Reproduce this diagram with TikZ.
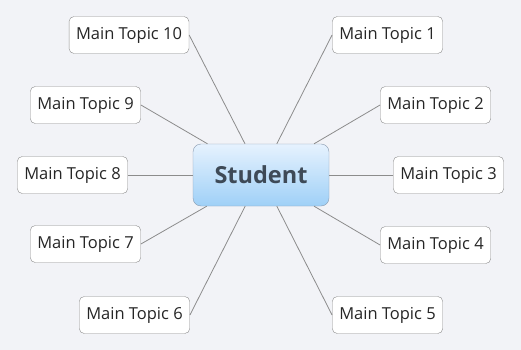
\documentclass[tikz,border=0pt]{standalone}
\usepackage{fontspec}
\setmainfont{Open Sans}
\usetikzlibrary{arrows.meta}
\definecolor{bgcol}{HTML}{F2F3F7}
\definecolor{edgecol}{HTML}{8C8C8C}
\definecolor{stutop}{HTML}{E6F2FE}
\definecolor{stubot}{HTML}{9FD0F7}
\definecolor{stuline}{HTML}{8A9BB0}
\definecolor{stutext}{HTML}{3E4A57}

\begin{document}
\begin{tikzpicture}[
  x=1pt, y=-1pt,
  topic/.style = {rectangle, draw=edgecol, rounded corners=5pt,
                  fill=white, inner xsep=7pt, inner ysep=0pt,
                  minimum height=37pt, text=black!85,
                  font=\fontsize{16.5}{18}\selectfont},
  root/.style  = {rectangle, draw=stuline, rounded corners=8pt,
                  top color=stutop, bottom color=stubot,
                  minimum width=136pt, minimum height=62pt, text=stutext,
                  font=\fontsize{23.5}{26}\selectfont\bfseries},
  link/.style  = {draw=edgecol, line width=0.8pt}
]
\fill[bgcol] (0,0) rectangle (521,350);
\useasboundingbox (0,0) rectangle (521,350);

\node[root]  (stu) at (261,175)   {Student};
\node[topic] (t1)  at (387.5,35)  {Main Topic 1};
\node[topic] (t2)  at (435.5,105) {Main Topic 2};
\node[topic] (t3)  at (448.5,175) {Main Topic 3};
\node[topic] (t4)  at (435.5,245) {Main Topic 4};
\node[topic] (t5)  at (387.5,315) {Main Topic 5};
\node[topic] (t6)  at (134.5,315) {Main Topic 6};
\node[topic] (t7)  at (85.5,244)  {Main Topic 7};
\node[topic] (t8)  at (72.5,175)  {Main Topic 8};
\node[topic] (t9)  at (85.5,105)  {Main Topic 9};
\node[topic] (t10) at (129,35)    {Main Topic 10};

\foreach \t in {t1,t2,t3,t4,t5}
  \draw[link] (\t.west) -- (stu);
\foreach \t in {t6,t7,t8,t9,t10}
  \draw[link] (\t.east) -- (stu);
\end{tikzpicture}
\end{document}
